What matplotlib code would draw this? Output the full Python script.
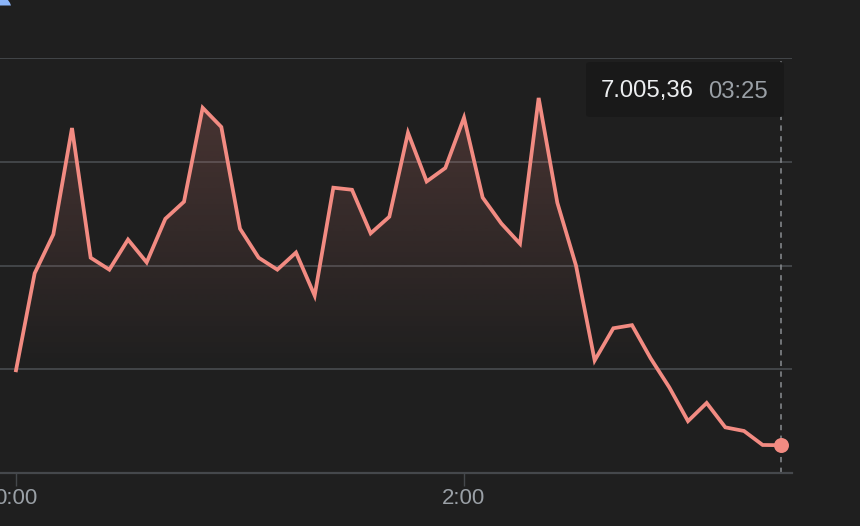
import numpy as np
import matplotlib
matplotlib.use("Agg")
import matplotlib.pyplot as plt
from matplotlib.patches import FancyBboxPatch, Polygon

# 5-minute samples from 0:00 to 3:25
minutes = np.arange(0, 210, 5)
values = [7019.8, 7038.5, 7046.0, 7066.5, 7041.5, 7039.2, 7045.0, 7040.6, 7049.0, 7052.3,
          7070.4, 7066.7, 7047.1, 7041.5, 7039.2, 7042.5, 7034.2, 7055.0, 7054.6, 7046.2,
          7049.4, 7065.6, 7056.2, 7058.8, 7068.5, 7053.1, 7048.1, 7044.2, 7072.3, 7052.1,
          7040.0, 7021.7, 7027.9, 7028.5, 7022.1, 7016.5, 7010.0, 7013.5, 7008.8, 7008.1,
          7005.4, 7005.36]
tick_pos = [0, 120]
tick_labels = ["0:00", "2:00"]
grid_levels = [7020, 7040, 7060, 7080]
last_value = "7.005,36"
last_time = "03:25"

BG = "#1f1f1f"
LINE = "#f28b82"
GRID = "#45484c"

plt.rcParams["font.family"] = ["Liberation Sans", "DejaVu Sans"]

W, H = 860, 526
fig = plt.figure(figsize=(W / 100, H / 100), dpi=100, facecolor=BG)
ax = fig.add_axes([0, 1 - 473 / H, 792 / W, (473 - 58) / H])
ax.set_facecolor(BG)

x0 = -16 / 3.7333
x1 = (792 - 16) / 3.7333
ax.set_xlim(x0, x1)
ax.set_ylim(7000, 7080)

# gradient fill under the line
fill = ax.fill_between(minutes, values, 7000, color="none", lw=0)
vmax = max(values)
rows = np.linspace(vmax, 7000, 300)
alpha = np.clip((rows - 7020) / (vmax - 7020), 0, 1) * 0.2
img = np.zeros((300, 1, 4))
img[:, :, :3] = matplotlib.colors.to_rgb(LINE)
img[:, 0, 3] = alpha
im = ax.imshow(img, aspect="auto", extent=[minutes[0], minutes[-1], 7000, vmax],
               origin="upper", zorder=1, interpolation="bilinear")
im.set_clip_path(fill.get_paths()[0], transform=ax.transData)

for g in grid_levels:
    ax.axhline(g, color=GRID, lw=1.3, zorder=0.5)

ax.plot(minutes, values, color=LINE, lw=2.7, zorder=3, solid_joinstyle="miter")
ax.plot(minutes[-1], values[-1], "o", color=LINE, ms=10.8, mec="none", zorder=4)
ax.axvline(minutes[-1], ymin=0, ymax=0.995, color="#8a8d91", lw=1.1,
           ls=(0, (3.5, 3.5)), zorder=2)

for s in ["top", "left", "right"]:
    ax.spines[s].set_visible(False)
ax.spines["bottom"].set_color(GRID)
ax.spines["bottom"].set_linewidth(1.6)
ax.set_yticks([])
ax.set_xticks(tick_pos)
ax.set_xticklabels(tick_labels)
ax.tick_params(axis="x", colors=GRID, length=9.5, width=1, pad=1,
               labelcolor="#9aa0a6", labelsize=16)

# tooltip box
box = FancyBboxPatch((586 / W, 1 - 117 / H), (784 - 586) / W, (117 - 62) / H,
                     boxstyle="round,pad=0,rounding_size=0.005",
                     transform=fig.transFigure, facecolor="#191919",
                     edgecolor="none", zorder=5)
fig.patches.append(box)
fig.text(601 / W, 1 - 97.5 / H, last_value, color="#eceef0", fontsize=17.2,
         ha="left", va="baseline", zorder=6)
fig.text(708 / W, 1 - 97.5 / H, last_time, color="#9aa0a6", fontsize=17.2,
         ha="left", va="baseline", zorder=6)

# partially visible blue icon in the top-left corner
icon = Polygon([(0, 1), (8 / W, 1), (10 / W, 1 - 3 / H), (11 / W, 1 - 5.5 / H), (0, 1 - 5.5 / H)],
               closed=True, transform=fig.transFigure, facecolor="#8ab4f8", edgecolor="none")
fig.patches.append(icon)

fig.savefig("out.png", dpi=100, facecolor=BG)
